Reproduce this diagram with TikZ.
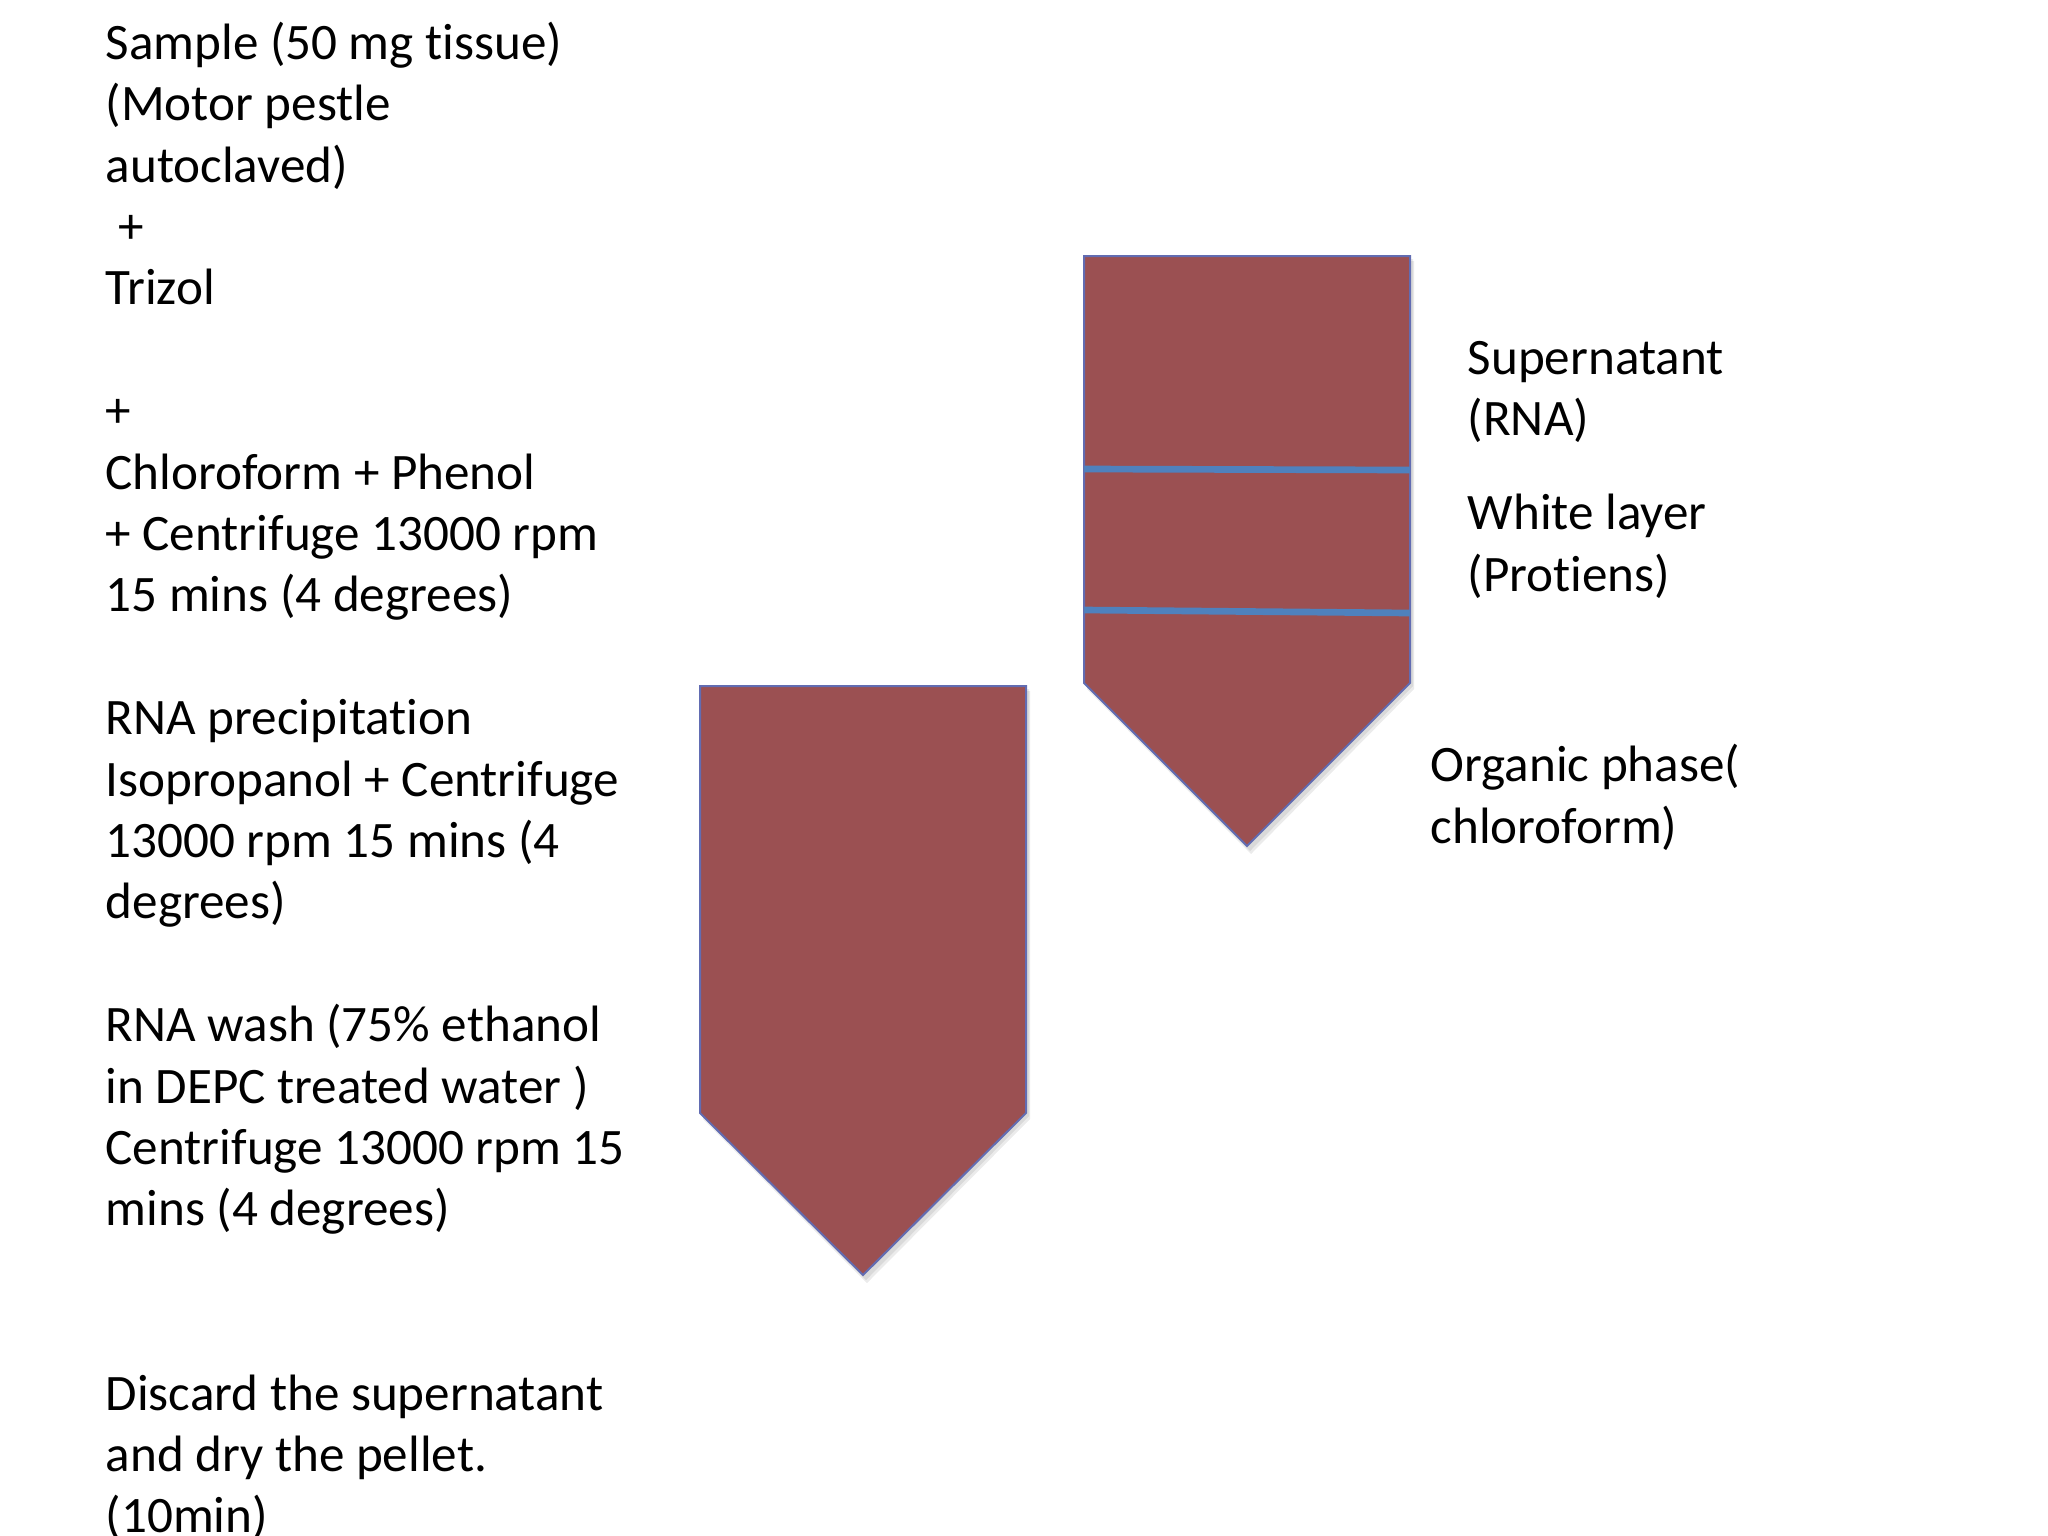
\documentclass[tikz,border=0pt]{standalone}
\usepackage{fontspec}
\setmainfont{Carlito}[Ligatures=NoCommon]
\usetikzlibrary{positioning}

\begin{document}
\begin{tikzpicture}[x=0.01cm,y=-0.01cm]

\def\linesep{61.4}
\def\firstbase{59.3}

\definecolor{tubeRed}{RGB}{155,80,82}
\definecolor{tubeEdge}{RGB}{98,108,178}
\definecolor{tubeBlue}{RGB}{79,129,189}

% base west = baseline of the last line
\tikzstyle{stepText}=[anchor=base west,inner sep=0pt,align=left,font=\fontsize{14.54}{17.47}\selectfont]
\tikzstyle{phaseText}=[stepText]
\tikzstyle{tube}=[fill=tubeRed,draw=tubeEdge,line width=0.57pt,line join=miter]
\tikzstyle{tubeShadow}=[fill=black,opacity=0.08]
\tikzstyle{layerLine}=[draw=tubeBlue,line width=1.9pt]

\useasboundingbox (0,0) rectangle (2048,1536);

%Protocol steps
\node[stepText] (sample) at (105,\firstbase+4*\linesep) {Sample (50 mg tissue)\\(Motor pestle\\autoclaved)\\\hspace*{0.13cm}+\\Trizol};
\node[stepText] (chloro) at (105,\firstbase+9*\linesep) {+\\Chloroform + Phenol\\+ Centrifuge 13000 rpm\\15 mins (4 degrees)};
\node[stepText] (precip) at (105,\firstbase+14*\linesep) {RNA precipitation\\Isopropanol + Centrifuge\\13000 rpm 15 mins (4\\degrees)};
\node[stepText] (wash) at (105,\firstbase+19*\linesep) {RNA wash (75\% ethanol\\in DEPC treated water )\\Centrifuge 13000 rpm 15\\mins (4 degrees)};
\node[stepText] (discard) at (105,\firstbase+24*\linesep) {Discard the supernatant\\and dry the pellet.\\(10min)};

%Separated tube
\fill[tubeShadow] (1086,259) -- (1413,259) -- (1413,686) -- (1250,851) -- (1086,686) -- cycle;
\fill[tubeShadow] (1087,261) -- (1414,261) -- (1414,689) -- (1251,854) -- (1087,689) -- cycle;
\filldraw[tube] (1084,256) -- (1410,256) -- (1410,683) -- (1247,846) -- (1084,683) -- cycle;
\draw[layerLine] (1084,469) -- (1410,470);
\draw[layerLine] (1084,610) -- (1410,613);

\node[phaseText] (supernatant) at (1467,374.3+\linesep) {Supernatant\\(RNA)};
\node[phaseText] (whiteLayer) at (1467,529.8+\linesep) {White layer\\(Protiens)};
\node[phaseText] (organic) at (1430,781.8+\linesep) {Organic phase(\\chloroform)};

%Pellet tube
\fill[tubeShadow] (702,689) -- (1029,689) -- (1029,1116) -- (866,1280) -- (702,1116) -- cycle;
\fill[tubeShadow] (703,691) -- (1030,691) -- (1030,1119) -- (867,1283) -- (703,1119) -- cycle;
\filldraw[tube] (700,686) -- (1026,686) -- (1026,1113) -- (863,1275) -- (700,1113) -- cycle;

\end{tikzpicture}
\end{document}
